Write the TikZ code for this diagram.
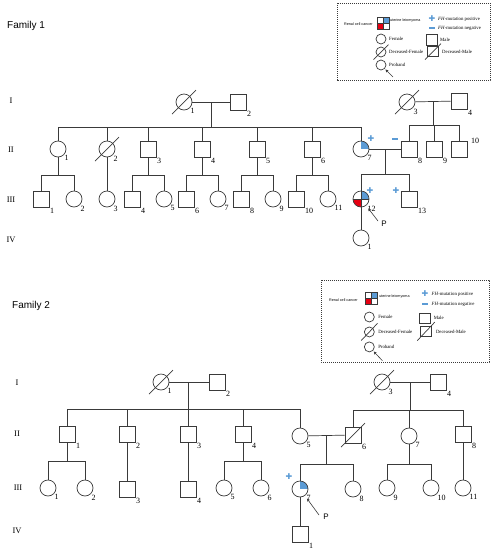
\documentclass[tikz,border=0pt]{standalone}
\usepackage{fontspec}
\setmainfont{Liberation Serif}
\setsansfont{Liberation Sans}
\newfontfamily\symfont{DejaVu Sans}
\usetikzlibrary{arrows.meta, calc}
\definecolor{fhBlue}{HTML}{5B9BD5}
\definecolor{fhRed}{HTML}{E60012}
\definecolor{pedGray}{HTML}{3A3A3A}

\tikzset{
  ped/.style={draw=pedGray, line width=0.7pt},
  fem/.style={ped, circle, minimum size=16pt, inner sep=0pt},
  mal/.style={ped, rectangle, minimum size=16pt, inner sep=0pt},
  num/.style={font=\fontsize{8}{8}\selectfont, inner sep=0.6pt},
  gen/.style={font=\fontsize{8.5}{9}\selectfont},
  famtitle/.style={font=\sffamily\fontsize{10}{12}\selectfont, anchor=west, inner sep=0pt},
  % uterine leiomyoma quadrant
  lm/.style={path picture={\fill[fhBlue] (path picture bounding box.center) rectangle (path picture bounding box.north east);}},
  % leiomyoma + renal cell cancer quadrants
  rcc/.style={path picture={
      \fill[fhBlue] (path picture bounding box.center) rectangle (path picture bounding box.north east);
      \fill[fhRed] (path picture bounding box.center) rectangle (path picture bounding box.south west);
      \draw[ped] (path picture bounding box.north) -- (path picture bounding box.south)
                 (path picture bounding box.west) -- (path picture bounding box.east);}},
  fhpos/.style={text=fhBlue, font=\symfont\fontsize{8}{8}\selectfont, inner sep=0pt},
  fhneg/.style={fill=fhBlue, minimum width=6pt, minimum height=2.2pt, inner sep=0pt},
  pointer/.style={draw=pedGray, line width=0.6pt, -{Stealth[length=3pt, width=3pt]}},
  ptext/.style={font=\sffamily\fontsize{8}{8}\selectfont},
  keybox/.style={draw=pedGray, line width=0.8pt, dash pattern=on 1.2pt off 0.8pt},
  keytxt/.style={font=\fontsize{4.8}{5}\selectfont, anchor=west, inner sep=0pt},
  keysans/.style={font=\sffamily\fontsize{3.7}{4}\selectfont, anchor=west, inner sep=0pt},
  kfem/.style={ped, circle, minimum size=10pt, inner sep=0pt},
  kmal/.style={ped, rectangle, minimum size=10.5pt, inner sep=0pt}
}

% slash through a deceased person
\newcommand{\deceased}[2][12]{\draw[ped] (#2.center) ++(-#1,#1) -- ++(2*#1,-2*#1);}

% legend, local coordinates
\newcommand{\pedkey}{%
  \node[keysans] (k-rcctxt) at (0,5) {Renal cell cancer};
  \node[ped, rectangle, minimum size=12pt, inner sep=0pt, rcc] (k-quad) at (39,4) {};
  \node[keysans] (k-lmtxt) at (46,2) {uterine leiomyoma};
  \node[fhpos] (k-pos) at (88,0) {✚};
  \node[keytxt] (k-postxt) at (94,0) {\textit{FH}-mutation positive};
  \node[fhneg] (k-neg) at (88,9) {};
  \node[keytxt] (k-negtxt) at (94,9) {\textit{FH}-mutation negative};
  \node[kfem] (k-fem) at (37,20) {};
  \node[keytxt] (k-femtxt) at (45,20) {Female};
  \node[kmal] (k-mal) at (88,21) {};
  \node[keytxt] (k-maltxt) at (96,21) {Male};
  \node[kfem] (k-dfem) at (37,33) {};
  \deceased[7.5]{k-dfem}
  \node[keytxt] (k-dfemtxt) at (45,33) {Deceased-Female};
  \node[kmal] (k-dmal) at (89,32.5) {};
  \deceased[8]{k-dmal}
  \node[keytxt] (k-dmaltxt) at (98,33) {Deceased-Male};
  \node[kfem] (k-pro) at (37,46) {};
  \node[keytxt] (k-protxt) at (45,46) {Proband};
  \coordinate (k-tail) at (49,58);
  \draw[pointer, shorten >=1pt] (k-tail) -- (k-pro);
}

\begin{document}
\begin{tikzpicture}[x=1pt, y=-1pt]
\useasboundingbox (0,0) rectangle (494,550);

% ---------------- Family 1 ----------------
\node[famtitle] (t1) at (7,26) {Family 1};
\draw[keybox] (337,3) rectangle (490,80);
\begin{scope}[shift={(344,19)}]
  \pedkey
\end{scope}

% generations
\node[gen] (A-g1) at (11,101) {I};
\node[gen] (A-g2) at (11,150) {II};
\node[gen] (A-g3) at (11,200) {III};
\node[gen] (A-g4) at (11,240) {IV};

% generation I
\node[fem, label={[num]-45:1}] (AI1) at (184,102) {};
\deceased{AI1}
\node[mal, label={[num]-45:2}] (AI2) at (238,102) {};
\node[fem, label={[num]-45:3}] (AI3) at (407,102) {};
\deceased{AI3}
\node[mal, label={[num]-45:4}] (AI4) at (459,101) {};

% generation II
\node[fem, label={[num]-45:1}] (AII1) at (58,149) {};
\node[fem, label={[num]-45:2}] (AII2) at (107,149) {};
\deceased{AII2}
\node[mal, label={[num]-45:3}] (AII3) at (148,149) {};
\node[mal, label={[num]-45:4}] (AII4) at (202,149) {};
\node[mal, label={[num]-45:5}] (AII5) at (257,149) {};
\node[mal, label={[num]-45:6}] (AII6) at (312,149) {};
\node[fem, lm, label={[num]-45:7}] (AII7) at (361,149) {};
\node[mal, label={[num]-45:8}] (AII8) at (409,149) {};
\node[mal, label={[num]-45:9}] (AII9) at (434,149) {};
\node[mal, label={[num, anchor=west, xshift=3pt]north east:10}] (AII10) at (459,149) {};

% generation III
\node[mal, label={[num]-45:1}] (AIII1) at (41,199) {};
\node[fem, label={[num]-45:2}] (AIII2) at (74,199) {};
\node[fem, label={[num]-45:3}] (AIII3) at (107,199) {};
\node[mal, label={[num]-45:4}] (AIII4) at (132,199) {};
\node[fem, label={[num]-45:5}] (AIII5) at (164,199) {};
\node[mal, label={[num]-45:6}] (AIII6) at (186,199) {};
\node[fem, label={[num]-45:7}] (AIII7) at (218,199) {};
\node[mal, label={[num]-45:8}] (AIII8) at (241,199) {};
\node[fem, label={[num]-45:9}] (AIII9) at (273,199) {};
\node[mal, label={[num]-45:10}] (AIII10) at (296,199) {};
\node[fem, label={[num]-45:11}] (AIII11) at (328,199) {};
\node[fem, rcc, label={[num]-45:12}] (AIII12) at (361,199) {};
\node[mal, label={[num]-45:13}] (AIII13) at (409,199) {};

% generation IV
\node[fem, label={[num]-45:1}] (AIV1) at (361,238) {};

% mutation marks
\node[fhpos] (A-p1) at (371,139) {✚};
\node[fhneg] (A-n1) at (395,139) {};
\node[fhpos] (A-p2) at (370,191) {✚};
\node[fhpos] (A-p3) at (396,191) {✚};

% lines
\coordinate (Am1) at (211,102);
\coordinate (As1) at (211,127);
\draw[ped] (AI1) -- (AI2);
\draw[ped] (Am1) -- (As1);
\foreach \c in {AII1,AII2,AII3,AII4,AII5,AII6,AII7}
  \draw[ped] (\c.north) |- (As1);
\coordinate (Am2) at (433,101);
\coordinate (As2) at (433,125);
\draw[ped] (AI3) -- (AI4);
\draw[ped] (Am2) -- (As2);
\foreach \c in {AII8,AII9,AII10}
  \draw[ped] (\c.north) |- (As2);
\coordinate (Am3) at (385,149);
\coordinate (As3) at (385,174);
\draw[ped] (AII7) -- (AII8);
\draw[ped] (Am3) -- (As3);
\foreach \c in {AIII12,AIII13}
  \draw[ped] (\c.north) |- (As3);
\foreach \p/\a/\b/\x in {AII1/AIII1/AIII2/58, AII3/AIII4/AIII5/148, AII4/AIII6/AIII7/202,
                         AII5/AIII8/AIII9/257, AII6/AIII10/AIII11/312} {
  \coordinate (As-\p) at (\x,175);
  \draw[ped] (\p) -- (As-\p);
  \draw[ped] (\a.north) |- (As-\p);
  \draw[ped] (\b.north) |- (As-\p);
}
\draw[ped] (AII2) -- (AIII3);
\draw[ped] (AIII12) -- (AIV1);

% proband
\coordinate (A-tail) at (378,221);
\draw[pointer, shorten >=3.5pt] (A-tail) -- (AIII12);
\node[ptext] (A-P) at (384,224) {P};

% ---------------- Family 2 ----------------
\node[famtitle] (t2) at (12,306) {Family 2};
\draw[keybox] (321,280) rectangle (489,362);
\begin{scope}[shift={(329,294)}, xscale=1.09, yscale=1.15]
  \pedkey
\end{scope}

% generations
\node[gen] (B-g1) at (17,383) {I};
\node[gen] (B-g2) at (17,434) {II};
\node[gen] (B-g3) at (18,488) {III};
\node[gen] (B-g4) at (17,531) {IV};

% generation I
\node[fem, label={[num]-45:1}] (BI1) at (161,382) {};
\deceased{BI1}
\node[mal, label={[num]-45:2}] (BI2) at (217,382) {};
\node[fem, label={[num]-45:3}] (BI3) at (382,382) {};
\deceased{BI3}
\node[mal, label={[num]-45:4}] (BI4) at (438,382) {};

% generation II
\node[mal, label={[num]-45:1}] (BII1) at (67,434) {};
\node[mal, label={[num]-45:2}] (BII2) at (127,434) {};
\node[mal, label={[num]-45:3}] (BII3) at (188,434) {};
\node[mal, label={[num]-45:4}] (BII4) at (243,434) {};
\node[fem, label={[num]-45:5}] (BII5) at (300,436) {};
\node[mal, label={[num]-45:6}] (BII6) at (353,435) {};
\deceased{BII6}
\node[fem, label={[num]-45:7}] (BII7) at (409,436) {};
\node[mal, label={[num]-45:8}] (BII8) at (463,434) {};

% generation III
\node[fem, label={[num]-45:1}] (BIII1) at (48,488) {};
\node[fem, label={[num]-45:2}] (BIII2) at (85,488) {};
\node[mal, label={[num]-45:3}] (BIII3) at (127,489) {};
\node[mal, label={[num]-45:4}] (BIII4) at (188,489) {};
\node[fem, label={[num]-45:5}] (BIII5) at (224,488) {};
\node[fem, label={[num]-45:6}] (BIII6) at (261,488) {};
\node[fem, lm, label={[num]-45:7}] (BIII7) at (300,489) {};
\node[fem, label={[num]-45:8}] (BIII8) at (353,489) {};
\node[fem, label={[num]-45:9}] (BIII9) at (387,488) {};
\node[fem, label={[num]-45:10}] (BIII10) at (431,488) {};
\node[fem, label={[num]-45:11}] (BIII11) at (463,488) {};

% generation IV
\node[mal, label={[num]-45:1}] (BIV1) at (300,534) {};

% mutation marks
\node[fhpos] (B-p1) at (289,477) {✚};

% lines
\coordinate (Bm1) at (188,382);
\coordinate (Bs1) at (188,409);
\draw[ped] (BI1) -- (BI2);
\draw[ped] (Bm1) -- (Bs1);
\foreach \c in {BII1,BII2,BII3,BII4,BII5}
  \draw[ped] (\c.north) |- (Bs1);
\coordinate (Bm2) at (410,382);
\coordinate (Bs2) at (410,410);
\draw[ped] (BI3) -- (BI4);
\draw[ped] (Bm2) -- (Bs2);
\foreach \c in {BII6,BII7,BII8}
  \draw[ped] (\c.north) |- (Bs2);
\coordinate (Bm3) at (326,436);
\coordinate (Bs3) at (326,464);
\draw[ped] (BII5) -- (BII6);
\draw[ped] (Bm3) -- (Bs3);
\foreach \c in {BIII7,BIII8}
  \draw[ped] (\c.north) |- (Bs3);
\foreach \p/\a/\b/\x/\y in {BII1/BIII1/BIII2/67/461, BII4/BIII5/BIII6/243/461, BII7/BIII9/BIII10/409/464} {
  \coordinate (Bs-\p) at (\x,\y);
  \draw[ped] (\p) -- (Bs-\p);
  \draw[ped] (\a.north) |- (Bs-\p);
  \draw[ped] (\b.north) |- (Bs-\p);
}
\draw[ped] (BII2) -- (BIII3);
\draw[ped] (BII3) -- (BIII4);
\draw[ped] (BII8) -- (BIII11);
\draw[ped] (BIII7) -- (BIV1);

% proband
\coordinate (B-tail) at (319,515);
\draw[pointer, shorten >=3.5pt] (B-tail) -- (BIII7);
\node[ptext] (B-P) at (326,517) {P};
\end{tikzpicture}
\end{document}
